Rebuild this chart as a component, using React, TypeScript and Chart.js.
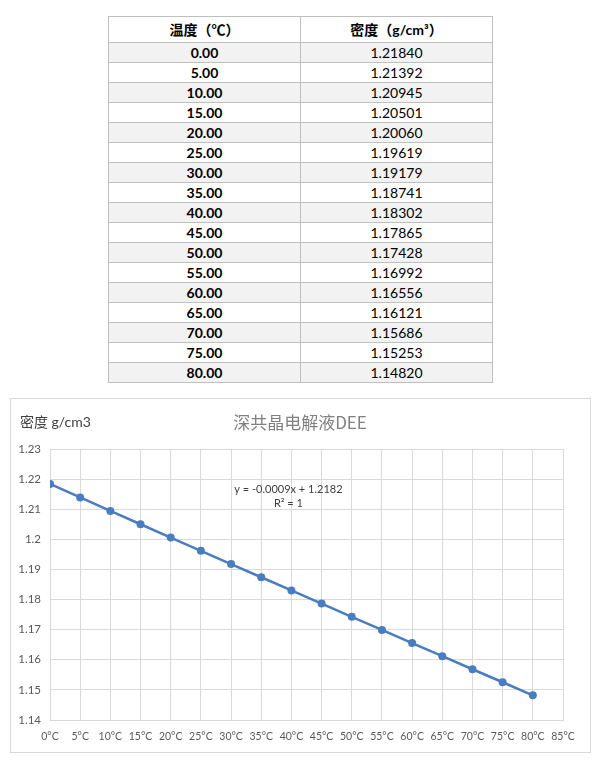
import { useEffect, useRef } from 'react'
import { Chart, registerables } from 'chart.js'
import type { Plugin } from 'chart.js'

Chart.register(...registerables)

const temps = [0, 5, 10, 15, 20, 25, 30, 35, 40, 45, 50, 55, 60, 65, 70, 75, 80]
const densities = [
  1.2184, 1.21392, 1.20945, 1.20501, 1.2006, 1.19619, 1.19179, 1.18741, 1.18302,
  1.17865, 1.17428, 1.16992, 1.16556, 1.16121, 1.15686, 1.15253, 1.1482,
]
const headers = ['温度（℃）', '密度（g/cm³）']
const chartTitle = '深共晶电解液DEE'
const yTitle = '密度 g/cm3'
const trendLines = ['y = -0.0009x + 1.2182', 'R² = 1']

const blue = '#4a7dbf'
const grid = '#d9d9d9'
const tickColor = '#595959'

// title, axis title and trendline label drawn on the canvas
const labelsPlugin: Plugin<'scatter'> = {
  id: 'labels',
  afterDraw(chart) {
    const { ctx, scales } = chart
    ctx.save()
    ctx.textBaseline = 'middle'

    ctx.fillStyle = '#808080'
    ctx.textAlign = 'center'
    ctx.font = '17px "Noto Sans CJK SC", Lato, sans-serif'
    ctx.fillText(chartTitle, 289, 24)

    ctx.fillStyle = '#404040'
    ctx.textAlign = 'left'
    ctx.font = '14px Lato, "Noto Sans CJK SC", sans-serif'
    ctx.fillText(yTitle, 9, 23)

    const tx = scales.x.getPixelForValue(39.5)
    const ty = scales.y.getPixelForValue(1.2164)
    ctx.font = '11px Lato, sans-serif'
    ctx.textAlign = 'center'
    ctx.fillText(trendLines[0], tx, ty)
    ctx.fillText(trendLines[1], tx, ty + 14)
    ctx.restore()
  },
}

function DensityChart() {
  const canvasRef = useRef<HTMLCanvasElement>(null)
  const chartRef = useRef<Chart<'scatter'> | null>(null)

  useEffect(() => {
    if (!canvasRef.current) return
    chartRef.current?.destroy()

    chartRef.current = new Chart(canvasRef.current, {
      type: 'scatter',
      data: {
        datasets: [
          {
            label: 'DEE',
            data: temps.map((t, i) => ({ x: t, y: densities[i] })),
            showLine: true,
            borderColor: blue,
            backgroundColor: blue,
            borderWidth: 2.5,
            pointRadius: 4,
            pointBorderWidth: 0,
          },
        ],
      },
      options: {
        animation: false,
        responsive: true,
        maintainAspectRatio: false,
        layout: { padding: { top: 50, right: 27, left: 0, bottom: 0 } },
        plugins: { legend: { display: false }, tooltip: { enabled: false } },
        scales: {
          x: {
            type: 'linear',
            min: 0,
            max: 85,
            afterFit: s => { s.height = 32 },
            ticks: {
              stepSize: 5,
              color: tickColor,
              padding: 10,
              maxRotation: 0,
              minRotation: 0,
              autoSkip: false,
              font: { family: 'Lato', size: 10.5 },
              callback: v => v + '°C',
            },
            grid: { color: grid, drawTicks: false },
            border: { color: grid },
          },
          y: {
            min: 1.14,
            max: 1.23,
            afterFit: s => { s.width = 39 },
            ticks: {
              stepSize: 0.01,
              color: tickColor,
              padding: 9,
              font: { family: 'Lato', size: 11.5 },
              callback: v => String(parseFloat(Number(v).toFixed(2))),
            },
            grid: { color: grid, drawTicks: false },
            border: { color: grid },
          },
        },
      },
      plugins: [labelsPlugin],
    })

    return () => chartRef.current?.destroy()
  }, [])

  return (
    <div style={{ position: 'absolute', left: 10, top: 398, width: 579, height: 353, border: '1px solid #d9d9d9' }}>
      <canvas ref={canvasRef} />
    </div>
  )
}

const cell: React.CSSProperties = {
  border: '1px solid #bfbfbf',
  padding: 0,
  textAlign: 'center',
  height: 19,
  lineHeight: '19px',
}

export default function App() {
  return (
    <div style={{ position: 'absolute', left: 0, top: 0, width: 604, height: 763, background: '#fff', fontFamily: 'Lato, "Noto Sans CJK SC", sans-serif', color: '#000' }}>
      <table style={{ position: 'absolute', left: 108, top: 16, width: 385, borderCollapse: 'collapse', fontSize: 14, tableLayout: 'fixed' }}>
        <thead>
          <tr>
            {headers.map(h => (
              <th key={h} style={{ ...cell, height: 25, lineHeight: '25px', fontWeight: 700 }}>
                {h}
              </th>
            ))}
          </tr>
        </thead>
        <tbody>
          {temps.map((t, i) => (
            <tr key={t} style={{ background: i % 2 === 0 ? '#f2f2f2' : '#fff' }}>
              <td style={{ ...cell, fontWeight: 700 }}>{t.toFixed(2)}</td>
              <td style={cell}>{densities[i].toFixed(5)}</td>
            </tr>
          ))}
        </tbody>
      </table>
      <DensityChart />
    </div>
  )
}
